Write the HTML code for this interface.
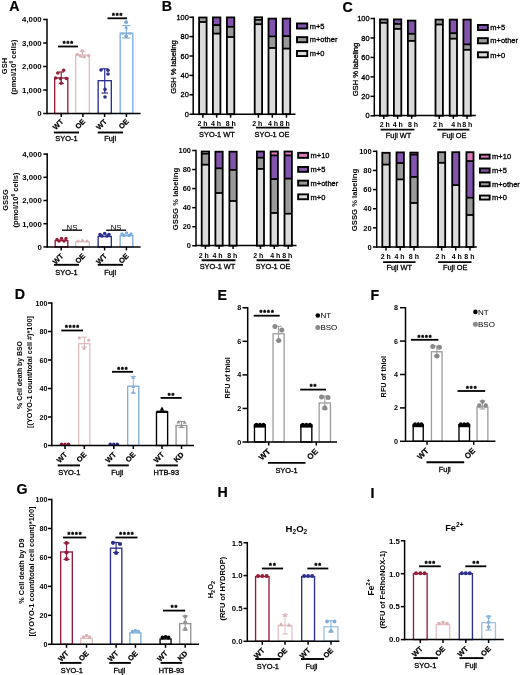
<!DOCTYPE html>
<html><head><meta charset="utf-8"><title>Figure</title>
<style>
html,body{margin:0;padding:0;background:#fff;}
body{width:520px;height:675px;overflow:hidden;}
svg{display:block;font-family:"Liberation Sans", Arial, sans-serif;}
</style></head>
<body>
<svg width="520" height="675" viewBox="0 0 520 675">
<rect width="520" height="675" fill="#fff"/>
<text x="9.2" y="11.4" font-size="14.2" text-anchor="start" font-weight="bold" fill="#000" stroke="#000" stroke-width="0.2">A</text>
<line x1="47" y1="18.75" x2="47" y2="114.25" stroke="#000" stroke-width="1.5"/>
<line x1="43.2" y1="19.5" x2="47" y2="19.5" stroke="#000" stroke-width="1.5"/>
<text x="41.6" y="22.31" font-size="7.8" text-anchor="end" font-weight="bold" fill="#000">4,000</text>
<line x1="43.2" y1="43" x2="47" y2="43" stroke="#000" stroke-width="1.5"/>
<text x="41.6" y="45.81" font-size="7.8" text-anchor="end" font-weight="bold" fill="#000">3,000</text>
<line x1="43.2" y1="66.5" x2="47" y2="66.5" stroke="#000" stroke-width="1.5"/>
<text x="41.6" y="69.31" font-size="7.8" text-anchor="end" font-weight="bold" fill="#000">2,000</text>
<line x1="43.2" y1="90" x2="47" y2="90" stroke="#000" stroke-width="1.5"/>
<text x="41.6" y="92.81" font-size="7.8" text-anchor="end" font-weight="bold" fill="#000">1,000</text>
<line x1="43.2" y1="113.5" x2="47" y2="113.5" stroke="#000" stroke-width="1.5"/>
<text x="41.6" y="116.31" font-size="7.8" text-anchor="end" font-weight="bold" fill="#000">0</text>
<text x="7.3" y="66" font-size="7.5" text-anchor="middle" font-weight="bold" fill="#000" transform="rotate(-90 7.3 66)">GSH</text>
<text x="16.2" y="67" font-size="7.5" text-anchor="middle" font-weight="bold" fill="#000" transform="rotate(-90 16.2 67)">(pmol/10<tspan font-size="5" dy="-3">6</tspan><tspan dy="3"> cells)</tspan></text>
<rect x="54.67" y="77.97" width="13.15" height="35.53" fill="#fff" stroke="#961E3A" stroke-width="1.35"/>
<rect x="75.67" y="55.17" width="13.65" height="58.33" fill="#fff" stroke="#E0BEC0" stroke-width="1.35"/>
<rect x="98.17" y="80.67" width="13.15" height="32.83" fill="#fff" stroke="#2C2F8E" stroke-width="1.35"/>
<rect x="120.17" y="33.17" width="12.65" height="80.33" fill="#fff" stroke="#7EAEDB" stroke-width="1.35"/>
<line x1="61.25" y1="72" x2="61.25" y2="83.5" stroke="#961E3A" stroke-width="1.2"/>
<line x1="58.65" y1="72" x2="63.85" y2="72" stroke="#961E3A" stroke-width="1.2"/>
<line x1="58.65" y1="83.5" x2="63.85" y2="83.5" stroke="#961E3A" stroke-width="1.2"/>
<circle cx="63.6" cy="70.2" r="1.8" fill="#961E3A"/>
<circle cx="57.8" cy="73" r="1.8" fill="#961E3A"/>
<circle cx="55.6" cy="78" r="1.8" fill="#961E3A"/>
<circle cx="66.4" cy="78.5" r="1.8" fill="#961E3A"/>
<circle cx="61.2" cy="83.3" r="1.8" fill="#961E3A"/>
<circle cx="60.5" cy="78.8" r="1.8" fill="#961E3A"/>
<line x1="82.5" y1="51.5" x2="82.5" y2="57" stroke="#E0BEC0" stroke-width="1"/>
<line x1="79.5" y1="51.5" x2="85.5" y2="51.5" stroke="#E0BEC0" stroke-width="1"/>
<line x1="79.5" y1="57" x2="85.5" y2="57" stroke="#E0BEC0" stroke-width="1"/>
<circle cx="82.2" cy="51" r="1.7" fill="#D9B2B5"/>
<circle cx="77.3" cy="54.4" r="1.7" fill="#D9B2B5"/>
<circle cx="84.3" cy="56.7" r="1.7" fill="#D9B2B5"/>
<circle cx="88.8" cy="55.8" r="1.7" fill="#D9B2B5"/>
<circle cx="80.5" cy="56" r="1.7" fill="#D9B2B5"/>
<line x1="104.75" y1="68.8" x2="104.75" y2="93" stroke="#2C2F8E" stroke-width="1.2"/>
<line x1="101.55" y1="68.8" x2="107.95" y2="68.8" stroke="#2C2F8E" stroke-width="1.2"/>
<line x1="101.55" y1="93" x2="107.95" y2="93" stroke="#2C2F8E" stroke-width="1.2"/>
<circle cx="101" cy="70" r="1.8" fill="#2C2F8E"/>
<circle cx="108" cy="70.3" r="1.8" fill="#2C2F8E"/>
<circle cx="108" cy="74" r="1.8" fill="#2C2F8E"/>
<circle cx="105" cy="89.4" r="1.8" fill="#2C2F8E"/>
<circle cx="105" cy="97" r="1.8" fill="#2C2F8E"/>
<line x1="126.3" y1="25.6" x2="126.3" y2="38" stroke="#7EAEDB" stroke-width="1.1"/>
<line x1="122.3" y1="25.6" x2="130.3" y2="25.6" stroke="#7EAEDB" stroke-width="1.1"/>
<line x1="122.3" y1="38" x2="130.3" y2="38" stroke="#7EAEDB" stroke-width="1.1"/>
<circle cx="126.2" cy="22.2" r="1.9" fill="#7FA9D0"/>
<polygon points="126.2,25.3 128.1,28.7 124.3,28.7" fill="#7FA9D0"/>
<circle cx="126.2" cy="36.2" r="1.9" fill="#7FA9D0"/>
<circle cx="122.6" cy="33.6" r="1.5" fill="#8DB6DC"/>
<circle cx="129.8" cy="33.6" r="1.5" fill="#8DB6DC"/>
<line x1="47" y1="113.5" x2="140.6" y2="113.5" stroke="#000" stroke-width="1.5"/>
<line x1="61.2" y1="113.5" x2="61.2" y2="117" stroke="#000" stroke-width="1.5"/>
<line x1="82.9" y1="113.5" x2="82.9" y2="117" stroke="#000" stroke-width="1.5"/>
<line x1="104.6" y1="113.5" x2="104.6" y2="117" stroke="#000" stroke-width="1.5"/>
<line x1="126.4" y1="113.5" x2="126.4" y2="117" stroke="#000" stroke-width="1.5"/>
<line x1="58" y1="46.5" x2="78" y2="46.5" stroke="#000" stroke-width="1.8"/>
<text x="68.4" y="46.2" font-size="7.2" text-anchor="middle" font-weight="bold" fill="#000" letter-spacing="1.0" stroke="#000" stroke-width="0.45">***</text>
<line x1="107.5" y1="18.3" x2="127" y2="18.3" stroke="#000" stroke-width="1.8"/>
<text x="117.65" y="18" font-size="7.2" text-anchor="middle" font-weight="bold" fill="#000" letter-spacing="1.0" stroke="#000" stroke-width="0.45">***</text>
<text x="64" y="122" font-size="7.4" text-anchor="end" font-weight="bold" fill="#000" transform="rotate(-45 64 122)" stroke="#000" stroke-width="0.2">WT</text>
<text x="85.7" y="122" font-size="7.4" text-anchor="end" font-weight="bold" fill="#000" transform="rotate(-45 85.7 122)" stroke="#000" stroke-width="0.2">OE</text>
<text x="107.4" y="122" font-size="7.4" text-anchor="end" font-weight="bold" fill="#000" transform="rotate(-45 107.4 122)" stroke="#000" stroke-width="0.2">WT</text>
<text x="129.2" y="122" font-size="7.4" text-anchor="end" font-weight="bold" fill="#000" transform="rotate(-45 129.2 122)" stroke="#000" stroke-width="0.2">OE</text>
<line x1="53.9" y1="132.5" x2="79" y2="132.5" stroke="#000" stroke-width="1.9"/>
<text x="66.45" y="140.96" font-size="7.4" text-anchor="middle" stroke="#000" stroke-width="0.3" fill="#000">SYO-1</text>
<line x1="97.7" y1="132.5" x2="123" y2="132.5" stroke="#000" stroke-width="1.9"/>
<text x="110.2" y="140.96" font-size="7.4" text-anchor="middle" stroke="#000" stroke-width="0.3" fill="#000">Fuji</text>
<line x1="47.2" y1="153.35" x2="47.2" y2="247.65" stroke="#000" stroke-width="1.5"/>
<line x1="43.4" y1="154.1" x2="47.2" y2="154.1" stroke="#000" stroke-width="1.5"/>
<text x="41.8" y="156.91" font-size="7.8" text-anchor="end" font-weight="bold" fill="#000">4,000</text>
<line x1="43.4" y1="177.3" x2="47.2" y2="177.3" stroke="#000" stroke-width="1.5"/>
<text x="41.8" y="180.11" font-size="7.8" text-anchor="end" font-weight="bold" fill="#000">3,000</text>
<line x1="43.4" y1="200.5" x2="47.2" y2="200.5" stroke="#000" stroke-width="1.5"/>
<text x="41.8" y="203.31" font-size="7.8" text-anchor="end" font-weight="bold" fill="#000">2,000</text>
<line x1="43.4" y1="223.7" x2="47.2" y2="223.7" stroke="#000" stroke-width="1.5"/>
<text x="41.8" y="226.51" font-size="7.8" text-anchor="end" font-weight="bold" fill="#000">1,000</text>
<line x1="43.4" y1="246.9" x2="47.2" y2="246.9" stroke="#000" stroke-width="1.5"/>
<text x="41.8" y="249.71" font-size="7.8" text-anchor="end" font-weight="bold" fill="#000">0</text>
<text x="8" y="200" font-size="7.5" text-anchor="middle" font-weight="bold" fill="#000" transform="rotate(-90 8 200)">GSSG</text>
<text x="18.2" y="200" font-size="7.5" text-anchor="middle" font-weight="bold" fill="#000" transform="rotate(-90 18.2 200)">(pmol/10<tspan font-size="5" dy="-3">6</tspan><tspan dy="3"> cells)</tspan></text>
<rect x="55.17" y="240.68" width="12.65" height="6.23" fill="#fff" stroke="#961E3A" stroke-width="1.35"/>
<rect x="75.67" y="241.68" width="13.65" height="5.23" fill="#fff" stroke="#E0BEC0" stroke-width="1.35"/>
<rect x="98.17" y="236.48" width="13.15" height="10.42" fill="#fff" stroke="#2C2F8E" stroke-width="1.35"/>
<rect x="120.17" y="235.68" width="12.65" height="11.23" fill="#fff" stroke="#7EAEDB" stroke-width="1.35"/>
<circle cx="57" cy="239.5" r="1.7" fill="#961E3A"/>
<circle cx="61.5" cy="238.5" r="1.7" fill="#961E3A"/>
<circle cx="66" cy="238.5" r="1.7" fill="#961E3A"/>
<circle cx="59" cy="241" r="1.7" fill="#961E3A"/>
<circle cx="64" cy="241" r="1.7" fill="#961E3A"/>
<circle cx="78" cy="241" r="1.5" fill="#D9B2B5"/>
<circle cx="82.5" cy="240.5" r="1.5" fill="#D9B2B5"/>
<circle cx="87" cy="241" r="1.5" fill="#D9B2B5"/>
<circle cx="100" cy="234.5" r="1.8" fill="#2C2F8E"/>
<circle cx="104.7" cy="233.5" r="1.8" fill="#2C2F8E"/>
<circle cx="109" cy="234.5" r="1.8" fill="#2C2F8E"/>
<circle cx="102" cy="236" r="1.8" fill="#2C2F8E"/>
<circle cx="107" cy="236" r="1.8" fill="#2C2F8E"/>
<circle cx="122" cy="234" r="1.7" fill="#7EAEDB"/>
<circle cx="126.5" cy="233" r="1.7" fill="#7EAEDB"/>
<circle cx="131" cy="234" r="1.7" fill="#7EAEDB"/>
<circle cx="124" cy="235.5" r="1.7" fill="#7EAEDB"/>
<circle cx="129" cy="235.5" r="1.7" fill="#7EAEDB"/>
<line x1="47.2" y1="246.9" x2="140.6" y2="246.9" stroke="#000" stroke-width="1.5"/>
<line x1="61.2" y1="246.9" x2="61.2" y2="250.4" stroke="#000" stroke-width="1.5"/>
<line x1="82.9" y1="246.9" x2="82.9" y2="250.4" stroke="#000" stroke-width="1.5"/>
<line x1="104.6" y1="246.9" x2="104.6" y2="250.4" stroke="#000" stroke-width="1.5"/>
<line x1="126.4" y1="246.9" x2="126.4" y2="250.4" stroke="#000" stroke-width="1.5"/>
<line x1="62" y1="230.2" x2="82" y2="230.2" stroke="#000" stroke-width="1.3"/>
<text x="72" y="229.8" font-size="7.8" text-anchor="middle" fill="#000">NS</text>
<line x1="106.2" y1="230.2" x2="126.1" y2="230.2" stroke="#000" stroke-width="1.3"/>
<text x="116.15" y="229.8" font-size="7.8" text-anchor="middle" fill="#000">NS</text>
<text x="64" y="256.5" font-size="7.4" text-anchor="end" font-weight="bold" fill="#000" transform="rotate(-45 64 256.5)" stroke="#000" stroke-width="0.2">WT</text>
<text x="85.7" y="256.5" font-size="7.4" text-anchor="end" font-weight="bold" fill="#000" transform="rotate(-45 85.7 256.5)" stroke="#000" stroke-width="0.2">OE</text>
<text x="107.4" y="256.5" font-size="7.4" text-anchor="end" font-weight="bold" fill="#000" transform="rotate(-45 107.4 256.5)" stroke="#000" stroke-width="0.2">WT</text>
<text x="129.2" y="256.5" font-size="7.4" text-anchor="end" font-weight="bold" fill="#000" transform="rotate(-45 129.2 256.5)" stroke="#000" stroke-width="0.2">OE</text>
<line x1="53.9" y1="264.8" x2="79" y2="264.8" stroke="#000" stroke-width="1.9"/>
<text x="66.45" y="274.86" font-size="7.4" text-anchor="middle" stroke="#000" stroke-width="0.3" fill="#000">SYO-1</text>
<line x1="97.7" y1="264.8" x2="123" y2="264.8" stroke="#000" stroke-width="1.9"/>
<text x="110.2" y="274.86" font-size="7.4" text-anchor="middle" stroke="#000" stroke-width="0.3" fill="#000">Fuji</text>
<text x="161.8" y="11.3" font-size="14.2" text-anchor="start" font-weight="bold" fill="#000" stroke="#000" stroke-width="0.2">B</text>
<line x1="193.2" y1="16.45" x2="193.2" y2="114.95" stroke="#000" stroke-width="1.5"/>
<line x1="189.4" y1="17.2" x2="193.2" y2="17.2" stroke="#000" stroke-width="1.5"/>
<text x="188.8" y="19.86" font-size="7.4" text-anchor="end" stroke="#000" stroke-width="0.3" fill="#000">100</text>
<line x1="189.4" y1="36.6" x2="193.2" y2="36.6" stroke="#000" stroke-width="1.5"/>
<text x="188.8" y="39.26" font-size="7.4" text-anchor="end" stroke="#000" stroke-width="0.3" fill="#000">80</text>
<line x1="189.4" y1="56" x2="193.2" y2="56" stroke="#000" stroke-width="1.5"/>
<text x="188.8" y="58.66" font-size="7.4" text-anchor="end" stroke="#000" stroke-width="0.3" fill="#000">60</text>
<line x1="189.4" y1="75.4" x2="193.2" y2="75.4" stroke="#000" stroke-width="1.5"/>
<text x="188.8" y="78.06" font-size="7.4" text-anchor="end" stroke="#000" stroke-width="0.3" fill="#000">40</text>
<line x1="189.4" y1="94.8" x2="193.2" y2="94.8" stroke="#000" stroke-width="1.5"/>
<text x="188.8" y="97.46" font-size="7.4" text-anchor="end" stroke="#000" stroke-width="0.3" fill="#000">20</text>
<line x1="189.4" y1="114.2" x2="193.2" y2="114.2" stroke="#000" stroke-width="1.5"/>
<text x="188.8" y="116.86" font-size="7.4" text-anchor="end" stroke="#000" stroke-width="0.3" fill="#000">0</text>
<text x="176.4" y="67" font-size="7.6" text-anchor="middle" stroke="#000" stroke-width="0.3" fill="#000" transform="rotate(-90 176.4 67)">GSH % labeling</text>
<rect x="199.1" y="17.5" width="7.5" height="4.5" fill="#9A9A9A"/>
<rect x="199.1" y="22" width="7.5" height="92.2" fill="#DBDBDB"/>
<rect x="199.1" y="21.1" width="7.5" height="1.8" fill="#000"/>
<rect x="199.1" y="17.5" width="7.5" height="96.7" fill="none" stroke="#000" stroke-width="1.8"/>
<rect x="212.9" y="17.4" width="7.5" height="7.7" fill="#8254AE"/>
<rect x="212.9" y="25.1" width="7.5" height="8.5" fill="#9A9A9A"/>
<rect x="212.9" y="33.6" width="7.5" height="80.6" fill="#DBDBDB"/>
<rect x="212.9" y="24.2" width="7.5" height="1.8" fill="#000"/>
<rect x="212.9" y="32.7" width="7.5" height="1.8" fill="#000"/>
<rect x="212.9" y="17.4" width="7.5" height="96.8" fill="none" stroke="#000" stroke-width="1.8"/>
<rect x="226.9" y="17.4" width="7.4" height="9.4" fill="#8254AE"/>
<rect x="226.9" y="26.8" width="7.4" height="10.2" fill="#9A9A9A"/>
<rect x="226.9" y="37" width="7.4" height="77.2" fill="#DBDBDB"/>
<rect x="226.9" y="25.9" width="7.4" height="1.8" fill="#000"/>
<rect x="226.9" y="36.1" width="7.4" height="1.8" fill="#000"/>
<rect x="226.9" y="17.4" width="7.4" height="96.8" fill="none" stroke="#000" stroke-width="1.8"/>
<rect x="254.7" y="17.3" width="7.4" height="2.5" fill="#E4E4E4"/>
<rect x="254.7" y="19.8" width="7.4" height="4.4" fill="#9A9A9A"/>
<rect x="254.7" y="24.2" width="7.4" height="90" fill="#DBDBDB"/>
<rect x="254.7" y="18.9" width="7.4" height="1.8" fill="#000"/>
<rect x="254.7" y="23.3" width="7.4" height="1.8" fill="#000"/>
<rect x="254.7" y="17.3" width="7.4" height="96.9" fill="none" stroke="#000" stroke-width="1.8"/>
<rect x="268.5" y="18.6" width="7.6" height="17.8" fill="#8254AE"/>
<rect x="268.5" y="36.4" width="7.6" height="11.6" fill="#9A9A9A"/>
<rect x="268.5" y="48" width="7.6" height="66.2" fill="#DBDBDB"/>
<rect x="268.5" y="35.5" width="7.6" height="1.8" fill="#000"/>
<rect x="268.5" y="47.1" width="7.6" height="1.8" fill="#000"/>
<rect x="268.5" y="18.6" width="7.6" height="95.6" fill="none" stroke="#000" stroke-width="1.8"/>
<rect x="282.7" y="18.6" width="7.5" height="17.5" fill="#8254AE"/>
<rect x="282.7" y="36.1" width="7.5" height="12.5" fill="#9A9A9A"/>
<rect x="282.7" y="48.6" width="7.5" height="65.6" fill="#DBDBDB"/>
<rect x="282.7" y="35.2" width="7.5" height="1.8" fill="#000"/>
<rect x="282.7" y="47.7" width="7.5" height="1.8" fill="#000"/>
<rect x="282.7" y="18.6" width="7.5" height="95.6" fill="none" stroke="#000" stroke-width="1.8"/>
<line x1="193.2" y1="114.2" x2="295.5" y2="114.2" stroke="#000" stroke-width="1.5"/>
<line x1="202.85" y1="114.2" x2="202.85" y2="117.7" stroke="#000" stroke-width="1.5"/>
<line x1="216.65" y1="114.2" x2="216.65" y2="117.7" stroke="#000" stroke-width="1.5"/>
<line x1="230.6" y1="114.2" x2="230.6" y2="117.7" stroke="#000" stroke-width="1.5"/>
<line x1="258.4" y1="114.2" x2="258.4" y2="117.7" stroke="#000" stroke-width="1.5"/>
<line x1="272.3" y1="114.2" x2="272.3" y2="117.7" stroke="#000" stroke-width="1.5"/>
<line x1="286.45" y1="114.2" x2="286.45" y2="117.7" stroke="#000" stroke-width="1.5"/>
<text x="202.5" y="125.9" font-size="7" text-anchor="middle" font-weight="bold" fill="#000">2 h</text>
<text x="216" y="125.9" font-size="7" text-anchor="middle" font-weight="bold" fill="#000">4 h</text>
<text x="230.7" y="125.9" font-size="7" text-anchor="middle" font-weight="bold" fill="#000">8 h</text>
<text x="257.2" y="125.9" font-size="7" text-anchor="middle" font-weight="bold" fill="#000">2 h</text>
<text x="273" y="125.9" font-size="7" text-anchor="middle" font-weight="bold" fill="#000">4 h</text>
<text x="284.7" y="125.9" font-size="7" text-anchor="middle" font-weight="bold" fill="#000">8 h</text>
<line x1="200.3" y1="127.6" x2="233.4" y2="127.6" stroke="#000" stroke-width="1.9"/>
<text x="216.9" y="136.86" font-size="7.4" text-anchor="middle" stroke="#000" stroke-width="0.3" fill="#000">SYO-1 WT</text>
<line x1="256" y1="127.6" x2="289.4" y2="127.6" stroke="#000" stroke-width="1.9"/>
<text x="272" y="136.86" font-size="7.4" text-anchor="middle" stroke="#000" stroke-width="0.3" fill="#000">SYO-1 OE</text>
<rect x="296.95" y="23.45" width="10.3" height="5.1" fill="#8254AE" stroke="#000" stroke-width="1.9"/>
<text x="309.7" y="28.7" font-size="7.5" text-anchor="start" stroke="#000" stroke-width="0.3" fill="#000">m+5</text>
<rect x="296.95" y="37.15" width="10.3" height="5.1" fill="#9A9A9A" stroke="#000" stroke-width="1.9"/>
<text x="309.7" y="42.4" font-size="7.5" text-anchor="start" stroke="#000" stroke-width="0.3" fill="#000">m+other</text>
<rect x="296.95" y="50.95" width="10.3" height="5.1" fill="#DBDBDB" stroke="#000" stroke-width="1.9"/>
<text x="309.7" y="56.2" font-size="7.5" text-anchor="start" stroke="#000" stroke-width="0.3" fill="#000">m+0</text>
<line x1="196" y1="149.75" x2="196" y2="246.5" stroke="#000" stroke-width="1.5"/>
<line x1="192.2" y1="150.5" x2="196" y2="150.5" stroke="#000" stroke-width="1.5"/>
<text x="191" y="153.2" font-size="7.5" text-anchor="end" font-weight="bold" fill="#000">100</text>
<line x1="192.2" y1="169.55" x2="196" y2="169.55" stroke="#000" stroke-width="1.5"/>
<text x="191" y="172.25" font-size="7.5" text-anchor="end" font-weight="bold" fill="#000">80</text>
<line x1="192.2" y1="188.6" x2="196" y2="188.6" stroke="#000" stroke-width="1.5"/>
<text x="191" y="191.3" font-size="7.5" text-anchor="end" font-weight="bold" fill="#000">60</text>
<line x1="192.2" y1="207.65" x2="196" y2="207.65" stroke="#000" stroke-width="1.5"/>
<text x="191" y="210.35" font-size="7.5" text-anchor="end" font-weight="bold" fill="#000">40</text>
<line x1="192.2" y1="226.7" x2="196" y2="226.7" stroke="#000" stroke-width="1.5"/>
<text x="191" y="229.4" font-size="7.5" text-anchor="end" font-weight="bold" fill="#000">20</text>
<line x1="192.2" y1="245.75" x2="196" y2="245.75" stroke="#000" stroke-width="1.5"/>
<text x="191" y="248.45" font-size="7.5" text-anchor="end" font-weight="bold" fill="#000">0</text>
<text x="178" y="199" font-size="7.7" text-anchor="middle" font-weight="bold" fill="#000" transform="rotate(-90 178 199)">GSSG % labeling</text>
<rect x="201.7" y="151.5" width="7.4" height="2.1" fill="#E4E4E4"/>
<rect x="201.7" y="153.6" width="7.4" height="11.1" fill="#9A9A9A"/>
<rect x="201.7" y="164.7" width="7.4" height="81.05" fill="#DBDBDB"/>
<rect x="201.7" y="152.7" width="7.4" height="1.8" fill="#000"/>
<rect x="201.7" y="163.8" width="7.4" height="1.8" fill="#000"/>
<rect x="201.7" y="151.5" width="7.4" height="94.25" fill="none" stroke="#000" stroke-width="1.8"/>
<rect x="215.4" y="151.7" width="7.3" height="16.6" fill="#8254AE"/>
<rect x="215.4" y="168.3" width="7.3" height="24.7" fill="#9A9A9A"/>
<rect x="215.4" y="193" width="7.3" height="52.75" fill="#DBDBDB"/>
<rect x="215.4" y="167.4" width="7.3" height="1.8" fill="#000"/>
<rect x="215.4" y="192.1" width="7.3" height="1.8" fill="#000"/>
<rect x="215.4" y="151.7" width="7.3" height="94.05" fill="none" stroke="#000" stroke-width="1.8"/>
<rect x="229.4" y="151.7" width="7.3" height="18.2" fill="#8254AE"/>
<rect x="229.4" y="169.9" width="7.3" height="31.1" fill="#9A9A9A"/>
<rect x="229.4" y="201" width="7.3" height="44.75" fill="#DBDBDB"/>
<rect x="229.4" y="169" width="7.3" height="1.8" fill="#000"/>
<rect x="229.4" y="200.1" width="7.3" height="1.8" fill="#000"/>
<rect x="229.4" y="151.7" width="7.3" height="94.05" fill="none" stroke="#000" stroke-width="1.8"/>
<rect x="256.9" y="151.5" width="7.1" height="6.2" fill="#8254AE"/>
<rect x="256.9" y="157.7" width="7.1" height="11.2" fill="#9A9A9A"/>
<rect x="256.9" y="168.9" width="7.1" height="76.85" fill="#DBDBDB"/>
<rect x="256.9" y="156.8" width="7.1" height="1.8" fill="#000"/>
<rect x="256.9" y="168" width="7.1" height="1.8" fill="#000"/>
<rect x="256.9" y="151.5" width="7.1" height="94.25" fill="none" stroke="#000" stroke-width="1.8"/>
<rect x="270.6" y="151.5" width="7.3" height="3.9" fill="#DA78B8"/>
<rect x="270.6" y="155.4" width="7.3" height="23.7" fill="#8254AE"/>
<rect x="270.6" y="179.1" width="7.3" height="33.9" fill="#9A9A9A"/>
<rect x="270.6" y="213" width="7.3" height="32.75" fill="#DBDBDB"/>
<rect x="270.6" y="154.5" width="7.3" height="1.8" fill="#000"/>
<rect x="270.6" y="178.2" width="7.3" height="1.8" fill="#000"/>
<rect x="270.6" y="212.1" width="7.3" height="1.8" fill="#000"/>
<rect x="270.6" y="151.5" width="7.3" height="94.25" fill="none" stroke="#000" stroke-width="1.8"/>
<rect x="284.5" y="151.5" width="7.4" height="3.9" fill="#DA78B8"/>
<rect x="284.5" y="155.4" width="7.4" height="23.2" fill="#8254AE"/>
<rect x="284.5" y="178.6" width="7.4" height="35.1" fill="#9A9A9A"/>
<rect x="284.5" y="213.7" width="7.4" height="32.05" fill="#DBDBDB"/>
<rect x="284.5" y="154.5" width="7.4" height="1.8" fill="#000"/>
<rect x="284.5" y="177.7" width="7.4" height="1.8" fill="#000"/>
<rect x="284.5" y="212.8" width="7.4" height="1.8" fill="#000"/>
<rect x="284.5" y="151.5" width="7.4" height="94.25" fill="none" stroke="#000" stroke-width="1.8"/>
<line x1="196" y1="245.5" x2="296.5" y2="245.5" stroke="#000" stroke-width="1.5"/>
<line x1="205.4" y1="245.5" x2="205.4" y2="249" stroke="#000" stroke-width="1.5"/>
<line x1="219.05" y1="245.5" x2="219.05" y2="249" stroke="#000" stroke-width="1.5"/>
<line x1="233.05" y1="245.5" x2="233.05" y2="249" stroke="#000" stroke-width="1.5"/>
<line x1="260.45" y1="245.5" x2="260.45" y2="249" stroke="#000" stroke-width="1.5"/>
<line x1="274.25" y1="245.5" x2="274.25" y2="249" stroke="#000" stroke-width="1.5"/>
<line x1="288.2" y1="245.5" x2="288.2" y2="249" stroke="#000" stroke-width="1.5"/>
<text x="203.7" y="257.7" font-size="7" text-anchor="middle" font-weight="bold" fill="#000">2 h</text>
<text x="217.5" y="257.7" font-size="7" text-anchor="middle" font-weight="bold" fill="#000">4 h</text>
<text x="232.3" y="257.7" font-size="7" text-anchor="middle" font-weight="bold" fill="#000">8 h</text>
<text x="258.3" y="257.7" font-size="7" text-anchor="middle" font-weight="bold" fill="#000">2 h</text>
<text x="275.2" y="257.7" font-size="7" text-anchor="middle" font-weight="bold" fill="#000">4 h</text>
<text x="287.3" y="257.7" font-size="7" text-anchor="middle" font-weight="bold" fill="#000">8 h</text>
<line x1="201.6" y1="260.2" x2="235.5" y2="260.2" stroke="#000" stroke-width="1.9"/>
<text x="217.5" y="269.06" font-size="7.4" text-anchor="middle" stroke="#000" stroke-width="0.3" fill="#000">SYO-1 WT</text>
<line x1="256.6" y1="260.2" x2="289.4" y2="260.2" stroke="#000" stroke-width="1.9"/>
<text x="273" y="269.06" font-size="7.4" text-anchor="middle" stroke="#000" stroke-width="0.3" fill="#000">SYO-1 OE</text>
<rect x="298.15" y="152.85" width="9.9" height="5" fill="#DA78B8" stroke="#000" stroke-width="1.9"/>
<text x="310.5" y="158.05" font-size="7.5" text-anchor="start" stroke="#000" stroke-width="0.3" fill="#000">m+10</text>
<rect x="298.15" y="166.95" width="9.9" height="4.9" fill="#8254AE" stroke="#000" stroke-width="1.9"/>
<text x="310.5" y="172.1" font-size="7.5" text-anchor="start" stroke="#000" stroke-width="0.3" fill="#000">m+5</text>
<rect x="298.15" y="180.65" width="9.9" height="4.9" fill="#9A9A9A" stroke="#000" stroke-width="1.9"/>
<text x="310.5" y="185.8" font-size="7.5" text-anchor="start" stroke="#000" stroke-width="0.3" fill="#000">m+other</text>
<rect x="298.15" y="194.35" width="9.9" height="4.9" fill="#DBDBDB" stroke="#000" stroke-width="1.9"/>
<text x="310.5" y="199.5" font-size="7.5" text-anchor="start" stroke="#000" stroke-width="0.3" fill="#000">m+0</text>
<text x="342.6" y="11.6" font-size="14.2" text-anchor="start" font-weight="bold" fill="#000" stroke="#000" stroke-width="0.2">C</text>
<line x1="374.3" y1="17.75" x2="374.3" y2="116.55" stroke="#000" stroke-width="1.5"/>
<line x1="370.5" y1="18.5" x2="374.3" y2="18.5" stroke="#000" stroke-width="1.5"/>
<text x="369.5" y="21.16" font-size="7.4" text-anchor="end" stroke="#000" stroke-width="0.3" fill="#000">100</text>
<line x1="370.5" y1="37.96" x2="374.3" y2="37.96" stroke="#000" stroke-width="1.5"/>
<text x="369.5" y="40.62" font-size="7.4" text-anchor="end" stroke="#000" stroke-width="0.3" fill="#000">80</text>
<line x1="370.5" y1="57.42" x2="374.3" y2="57.42" stroke="#000" stroke-width="1.5"/>
<text x="369.5" y="60.08" font-size="7.4" text-anchor="end" stroke="#000" stroke-width="0.3" fill="#000">60</text>
<line x1="370.5" y1="76.88" x2="374.3" y2="76.88" stroke="#000" stroke-width="1.5"/>
<text x="369.5" y="79.54" font-size="7.4" text-anchor="end" stroke="#000" stroke-width="0.3" fill="#000">40</text>
<line x1="370.5" y1="96.34" x2="374.3" y2="96.34" stroke="#000" stroke-width="1.5"/>
<text x="369.5" y="99" font-size="7.4" text-anchor="end" stroke="#000" stroke-width="0.3" fill="#000">20</text>
<line x1="370.5" y1="115.8" x2="374.3" y2="115.8" stroke="#000" stroke-width="1.5"/>
<text x="369.5" y="118.46" font-size="7.4" text-anchor="end" stroke="#000" stroke-width="0.3" fill="#000">0</text>
<text x="358" y="69.5" font-size="7.6" text-anchor="middle" stroke="#000" stroke-width="0.3" fill="#000" transform="rotate(-90 358 69.5)">GSH % labeling</text>
<rect x="380" y="19.4" width="7.6" height="3.4" fill="#9A9A9A"/>
<rect x="380" y="22.8" width="7.6" height="93" fill="#DBDBDB"/>
<rect x="380" y="21.9" width="7.6" height="1.8" fill="#000"/>
<rect x="380" y="19.4" width="7.6" height="96.4" fill="none" stroke="#000" stroke-width="1.8"/>
<rect x="393.9" y="19.4" width="7.4" height="4.5" fill="#8254AE"/>
<rect x="393.9" y="23.9" width="7.4" height="5" fill="#9A9A9A"/>
<rect x="393.9" y="28.9" width="7.4" height="86.9" fill="#DBDBDB"/>
<rect x="393.9" y="23" width="7.4" height="1.8" fill="#000"/>
<rect x="393.9" y="28" width="7.4" height="1.8" fill="#000"/>
<rect x="393.9" y="19.4" width="7.4" height="96.4" fill="none" stroke="#000" stroke-width="1.8"/>
<rect x="407.9" y="20.6" width="7.5" height="13.2" fill="#8254AE"/>
<rect x="407.9" y="33.8" width="7.5" height="7.1" fill="#9A9A9A"/>
<rect x="407.9" y="40.9" width="7.5" height="74.9" fill="#DBDBDB"/>
<rect x="407.9" y="32.9" width="7.5" height="1.8" fill="#000"/>
<rect x="407.9" y="40" width="7.5" height="1.8" fill="#000"/>
<rect x="407.9" y="20.6" width="7.5" height="95.2" fill="none" stroke="#000" stroke-width="1.8"/>
<rect x="435.5" y="19.6" width="7.4" height="4.9" fill="#9A9A9A"/>
<rect x="435.5" y="24.5" width="7.4" height="91.3" fill="#DBDBDB"/>
<rect x="435.5" y="23.6" width="7.4" height="1.8" fill="#000"/>
<rect x="435.5" y="19.6" width="7.4" height="96.2" fill="none" stroke="#000" stroke-width="1.8"/>
<rect x="449.7" y="19.6" width="7.3" height="13.6" fill="#8254AE"/>
<rect x="449.7" y="33.2" width="7.3" height="5.5" fill="#9A9A9A"/>
<rect x="449.7" y="38.7" width="7.3" height="77.1" fill="#DBDBDB"/>
<rect x="449.7" y="32.3" width="7.3" height="1.8" fill="#000"/>
<rect x="449.7" y="37.8" width="7.3" height="1.8" fill="#000"/>
<rect x="449.7" y="19.6" width="7.3" height="96.2" fill="none" stroke="#000" stroke-width="1.8"/>
<rect x="463.4" y="19.6" width="7.4" height="24.8" fill="#8254AE"/>
<rect x="463.4" y="44.4" width="7.4" height="5.4" fill="#9A9A9A"/>
<rect x="463.4" y="49.8" width="7.4" height="66" fill="#DBDBDB"/>
<rect x="463.4" y="43.5" width="7.4" height="1.8" fill="#000"/>
<rect x="463.4" y="48.9" width="7.4" height="1.8" fill="#000"/>
<rect x="463.4" y="19.6" width="7.4" height="96.2" fill="none" stroke="#000" stroke-width="1.8"/>
<line x1="374.3" y1="115.4" x2="475.8" y2="115.4" stroke="#000" stroke-width="1.5"/>
<line x1="383.8" y1="115.4" x2="383.8" y2="118.9" stroke="#000" stroke-width="1.5"/>
<line x1="397.6" y1="115.4" x2="397.6" y2="118.9" stroke="#000" stroke-width="1.5"/>
<line x1="411.65" y1="115.4" x2="411.65" y2="118.9" stroke="#000" stroke-width="1.5"/>
<line x1="439.2" y1="115.4" x2="439.2" y2="118.9" stroke="#000" stroke-width="1.5"/>
<line x1="453.35" y1="115.4" x2="453.35" y2="118.9" stroke="#000" stroke-width="1.5"/>
<line x1="467.1" y1="115.4" x2="467.1" y2="118.9" stroke="#000" stroke-width="1.5"/>
<text x="384.8" y="127" font-size="7" text-anchor="middle" font-weight="bold" fill="#000">2 h</text>
<text x="397.8" y="127" font-size="7" text-anchor="middle" font-weight="bold" fill="#000">4 h</text>
<text x="413" y="127" font-size="7" text-anchor="middle" font-weight="bold" fill="#000">8 h</text>
<text x="438" y="127" font-size="7" text-anchor="middle" font-weight="bold" fill="#000">2 h</text>
<text x="456.2" y="127" font-size="7" text-anchor="middle" font-weight="bold" fill="#000">4 h</text>
<text x="467.3" y="127" font-size="7" text-anchor="middle" font-weight="bold" fill="#000">8 h</text>
<line x1="380.6" y1="129.6" x2="414.4" y2="129.6" stroke="#000" stroke-width="1.9"/>
<text x="398.6" y="137.86" font-size="7.4" text-anchor="middle" stroke="#000" stroke-width="0.3" fill="#000">Fuji WT</text>
<line x1="437.3" y1="129.6" x2="469.4" y2="129.6" stroke="#000" stroke-width="1.9"/>
<text x="454.2" y="137.86" font-size="7.4" text-anchor="middle" stroke="#000" stroke-width="0.3" fill="#000">Fuji OE</text>
<rect x="477.95" y="24.95" width="9.9" height="5.1" fill="#8254AE" stroke="#000" stroke-width="1.9"/>
<text x="490.3" y="30.2" font-size="7.5" text-anchor="start" stroke="#000" stroke-width="0.3" fill="#000">m+5</text>
<rect x="477.95" y="38.15" width="9.9" height="5.2" fill="#9A9A9A" stroke="#000" stroke-width="1.9"/>
<text x="490.3" y="43.45" font-size="7.5" text-anchor="start" stroke="#000" stroke-width="0.3" fill="#000">m+other</text>
<rect x="477.95" y="52.25" width="9.9" height="5.1" fill="#DBDBDB" stroke="#000" stroke-width="1.9"/>
<text x="490.3" y="57.5" font-size="7.5" text-anchor="start" stroke="#000" stroke-width="0.3" fill="#000">m+0</text>
<line x1="376.7" y1="150.55" x2="376.7" y2="247.75" stroke="#000" stroke-width="1.5"/>
<line x1="372.9" y1="151.3" x2="376.7" y2="151.3" stroke="#000" stroke-width="1.5"/>
<text x="371.7" y="154" font-size="7.5" text-anchor="end" font-weight="bold" fill="#000">100</text>
<line x1="372.9" y1="170.44" x2="376.7" y2="170.44" stroke="#000" stroke-width="1.5"/>
<text x="371.7" y="173.14" font-size="7.5" text-anchor="end" font-weight="bold" fill="#000">80</text>
<line x1="372.9" y1="189.58" x2="376.7" y2="189.58" stroke="#000" stroke-width="1.5"/>
<text x="371.7" y="192.28" font-size="7.5" text-anchor="end" font-weight="bold" fill="#000">60</text>
<line x1="372.9" y1="208.72" x2="376.7" y2="208.72" stroke="#000" stroke-width="1.5"/>
<text x="371.7" y="211.42" font-size="7.5" text-anchor="end" font-weight="bold" fill="#000">40</text>
<line x1="372.9" y1="227.86" x2="376.7" y2="227.86" stroke="#000" stroke-width="1.5"/>
<text x="371.7" y="230.56" font-size="7.5" text-anchor="end" font-weight="bold" fill="#000">20</text>
<line x1="372.9" y1="247" x2="376.7" y2="247" stroke="#000" stroke-width="1.5"/>
<text x="371.7" y="249.7" font-size="7.5" text-anchor="end" font-weight="bold" fill="#000">0</text>
<text x="356.9" y="200" font-size="7.7" text-anchor="middle" font-weight="bold" fill="#000" transform="rotate(-90 356.9 200)">GSSG % labeling</text>
<rect x="382.3" y="152.8" width="7.4" height="11.8" fill="#9A9A9A"/>
<rect x="382.3" y="164.6" width="7.4" height="82.4" fill="#DBDBDB"/>
<rect x="382.3" y="163.7" width="7.4" height="1.8" fill="#000"/>
<rect x="382.3" y="152.8" width="7.4" height="94.2" fill="none" stroke="#000" stroke-width="1.8"/>
<rect x="396.5" y="152.4" width="7.4" height="10.6" fill="#8254AE"/>
<rect x="396.5" y="163" width="7.4" height="16.4" fill="#9A9A9A"/>
<rect x="396.5" y="179.4" width="7.4" height="67.6" fill="#DBDBDB"/>
<rect x="396.5" y="162.1" width="7.4" height="1.8" fill="#000"/>
<rect x="396.5" y="178.5" width="7.4" height="1.8" fill="#000"/>
<rect x="396.5" y="152.4" width="7.4" height="94.6" fill="none" stroke="#000" stroke-width="1.8"/>
<rect x="410.3" y="152.6" width="7.4" height="2" fill="#DA78B8"/>
<rect x="410.3" y="154.6" width="7.4" height="22.3" fill="#8254AE"/>
<rect x="410.3" y="176.9" width="7.4" height="26.1" fill="#9A9A9A"/>
<rect x="410.3" y="203" width="7.4" height="44" fill="#DBDBDB"/>
<rect x="410.3" y="153.7" width="7.4" height="1.8" fill="#000"/>
<rect x="410.3" y="176" width="7.4" height="1.8" fill="#000"/>
<rect x="410.3" y="202.1" width="7.4" height="1.8" fill="#000"/>
<rect x="410.3" y="152.6" width="7.4" height="94.4" fill="none" stroke="#000" stroke-width="1.8"/>
<rect x="438.1" y="152.2" width="7.1" height="10.6" fill="#9A9A9A"/>
<rect x="438.1" y="162.8" width="7.1" height="84.2" fill="#DBDBDB"/>
<rect x="438.1" y="161.9" width="7.1" height="1.8" fill="#000"/>
<rect x="438.1" y="152.2" width="7.1" height="94.8" fill="none" stroke="#000" stroke-width="1.8"/>
<rect x="452.2" y="152.2" width="7.1" height="32.9" fill="#8254AE"/>
<rect x="452.2" y="185.1" width="7.1" height="61.9" fill="#DBDBDB"/>
<rect x="452.2" y="184.2" width="7.1" height="1.8" fill="#000"/>
<rect x="452.2" y="152.2" width="7.1" height="94.8" fill="none" stroke="#000" stroke-width="1.8"/>
<rect x="466.4" y="152.2" width="7.1" height="8.9" fill="#DA78B8"/>
<rect x="466.4" y="161.1" width="7.1" height="36.6" fill="#8254AE"/>
<rect x="466.4" y="197.7" width="7.1" height="17.3" fill="#9A9A9A"/>
<rect x="466.4" y="215" width="7.1" height="32" fill="#DBDBDB"/>
<rect x="466.4" y="160.2" width="7.1" height="1.8" fill="#000"/>
<rect x="466.4" y="196.8" width="7.1" height="1.8" fill="#000"/>
<rect x="466.4" y="214.1" width="7.1" height="1.8" fill="#000"/>
<rect x="466.4" y="152.2" width="7.1" height="94.8" fill="none" stroke="#000" stroke-width="1.8"/>
<line x1="376.7" y1="247.1" x2="476.8" y2="247.1" stroke="#000" stroke-width="1.5"/>
<line x1="386" y1="247.1" x2="386" y2="250.6" stroke="#000" stroke-width="1.5"/>
<line x1="400.2" y1="247.1" x2="400.2" y2="250.6" stroke="#000" stroke-width="1.5"/>
<line x1="414" y1="247.1" x2="414" y2="250.6" stroke="#000" stroke-width="1.5"/>
<line x1="441.65" y1="247.1" x2="441.65" y2="250.6" stroke="#000" stroke-width="1.5"/>
<line x1="455.75" y1="247.1" x2="455.75" y2="250.6" stroke="#000" stroke-width="1.5"/>
<line x1="469.95" y1="247.1" x2="469.95" y2="250.6" stroke="#000" stroke-width="1.5"/>
<text x="385.7" y="258.8" font-size="7" text-anchor="middle" font-weight="bold" fill="#000">2 h</text>
<text x="399.6" y="258.8" font-size="7" text-anchor="middle" font-weight="bold" fill="#000">4 h</text>
<text x="413.9" y="258.8" font-size="7" text-anchor="middle" font-weight="bold" fill="#000">8 h</text>
<text x="440.5" y="258.8" font-size="7" text-anchor="middle" font-weight="bold" fill="#000">2 h</text>
<text x="456.7" y="258.8" font-size="7" text-anchor="middle" font-weight="bold" fill="#000">4 h</text>
<text x="469.4" y="258.8" font-size="7" text-anchor="middle" font-weight="bold" fill="#000">8 h</text>
<line x1="383.1" y1="262.1" x2="415.5" y2="262.1" stroke="#000" stroke-width="1.9"/>
<text x="399.2" y="269.96" font-size="7.4" text-anchor="middle" stroke="#000" stroke-width="0.3" fill="#000">Fuji WT</text>
<line x1="438.1" y1="262.1" x2="471.5" y2="262.1" stroke="#000" stroke-width="1.9"/>
<text x="455.2" y="269.96" font-size="7.4" text-anchor="middle" stroke="#000" stroke-width="0.3" fill="#000">Fuji OE</text>
<rect x="479.95" y="154.65" width="9.7" height="4" fill="#DA78B8" stroke="#000" stroke-width="1.9"/>
<text x="492.1" y="159.35" font-size="7.5" text-anchor="start" stroke="#000" stroke-width="0.3" fill="#000">m+10</text>
<rect x="479.95" y="168.45" width="9.7" height="4.2" fill="#8254AE" stroke="#000" stroke-width="1.9"/>
<text x="492.1" y="173.25" font-size="7.5" text-anchor="start" stroke="#000" stroke-width="0.3" fill="#000">m+5</text>
<rect x="479.95" y="182.25" width="9.7" height="4" fill="#9A9A9A" stroke="#000" stroke-width="1.9"/>
<text x="492.1" y="186.95" font-size="7.5" text-anchor="start" stroke="#000" stroke-width="0.3" fill="#000">m+other</text>
<rect x="479.95" y="195.55" width="9.7" height="4" fill="#DBDBDB" stroke="#000" stroke-width="1.9"/>
<text x="492.1" y="200.25" font-size="7.5" text-anchor="start" stroke="#000" stroke-width="0.3" fill="#000">m+0</text>
<text x="14.8" y="299.4" font-size="14.2" text-anchor="start" font-weight="bold" fill="#000" stroke="#000" stroke-width="0.2">D</text>
<line x1="51.8" y1="302.25" x2="51.8" y2="446.25" stroke="#000" stroke-width="1.5"/>
<line x1="48" y1="303" x2="51.8" y2="303" stroke="#000" stroke-width="1.5"/>
<text x="47.4" y="305.59" font-size="7.2" text-anchor="end" font-weight="bold" fill="#000">100</text>
<line x1="48" y1="331.5" x2="51.8" y2="331.5" stroke="#000" stroke-width="1.5"/>
<text x="47.4" y="334.09" font-size="7.2" text-anchor="end" font-weight="bold" fill="#000">80</text>
<line x1="48" y1="360" x2="51.8" y2="360" stroke="#000" stroke-width="1.5"/>
<text x="47.4" y="362.59" font-size="7.2" text-anchor="end" font-weight="bold" fill="#000">60</text>
<line x1="48" y1="388.5" x2="51.8" y2="388.5" stroke="#000" stroke-width="1.5"/>
<text x="47.4" y="391.09" font-size="7.2" text-anchor="end" font-weight="bold" fill="#000">40</text>
<line x1="48" y1="417" x2="51.8" y2="417" stroke="#000" stroke-width="1.5"/>
<text x="47.4" y="419.59" font-size="7.2" text-anchor="end" font-weight="bold" fill="#000">20</text>
<line x1="48" y1="445.5" x2="51.8" y2="445.5" stroke="#000" stroke-width="1.5"/>
<text x="47.4" y="448.09" font-size="7.2" text-anchor="end" font-weight="bold" fill="#000">0</text>
<text x="22.3" y="375" font-size="6.9" text-anchor="middle" font-weight="bold" fill="#000" transform="rotate(-90 22.3 375)">% Cell death by BSO</text>
<text x="32.4" y="372" font-size="7.3" text-anchor="middle" font-weight="bold" fill="#000" transform="rotate(-90 32.4 372)">[(YOYO-1 count/total cell #)*100]</text>
<rect x="78.67" y="343.68" width="11.15" height="101.83" fill="#fff" stroke="#E0BEC0" stroke-width="1.35"/>
<rect x="127.67" y="386.18" width="11.15" height="59.33" fill="#fff" stroke="#7EAEDB" stroke-width="1.35"/>
<rect x="156.48" y="411.98" width="11.15" height="33.52" fill="#fff" stroke="#000" stroke-width="1.35"/>
<rect x="176.08" y="425.48" width="10.75" height="20.02" fill="#fff" stroke="#939393" stroke-width="1.35"/>
<circle cx="61.5" cy="444.2" r="1.8" fill="#961E3A"/>
<circle cx="65" cy="444.2" r="1.8" fill="#961E3A"/>
<circle cx="68.5" cy="444.2" r="1.8" fill="#961E3A"/>
<circle cx="110.3" cy="444.2" r="1.8" fill="#2C2F8E"/>
<circle cx="113.8" cy="444.2" r="1.8" fill="#2C2F8E"/>
<circle cx="117.3" cy="444.2" r="1.8" fill="#2C2F8E"/>
<line x1="84.3" y1="337.1" x2="84.3" y2="347" stroke="#D9B3B7" stroke-width="1"/>
<line x1="81.4" y1="337.1" x2="87.2" y2="337.1" stroke="#D9B3B7" stroke-width="1"/>
<line x1="81.4" y1="347" x2="87.2" y2="347" stroke="#D9B3B7" stroke-width="1"/>
<circle cx="79.4" cy="337.9" r="1.6" fill="#DDB4B8"/>
<circle cx="88.7" cy="340.2" r="1.6" fill="#DDB4B8"/>
<circle cx="84.1" cy="348.5" r="1.6" fill="#DDB4B8"/>
<line x1="133.3" y1="376.5" x2="133.3" y2="393" stroke="#8FB9E0" stroke-width="1"/>
<line x1="130.7" y1="376.5" x2="135.9" y2="376.5" stroke="#8FB9E0" stroke-width="1"/>
<line x1="130.7" y1="393" x2="135.9" y2="393" stroke="#8FB9E0" stroke-width="1"/>
<polygon points="133.3,375 135.39,378.74 131.21,378.74" fill="#8DAFD0"/>
<polygon points="133.3,390 135.39,393.74 131.21,393.74" fill="#8DAFD0"/>
<polygon points="133.3,384.5 135.2,387.9 131.4,387.9" fill="#8DAFD0"/>
<polygon points="162,406.5 164.38,410.75 159.62,410.75" fill="#000"/>
<line x1="156.5" y1="411.8" x2="167.6" y2="411.8" stroke="#000" stroke-width="2.2"/>
<line x1="181.5" y1="421.5" x2="181.5" y2="427.5" stroke="#939393" stroke-width="1"/>
<line x1="178.5" y1="421.5" x2="184.5" y2="421.5" stroke="#939393" stroke-width="1"/>
<line x1="178.5" y1="427.5" x2="184.5" y2="427.5" stroke="#939393" stroke-width="1"/>
<polygon points="178.3,420 180.2,423.4 176.4,423.4" fill="#939393"/>
<polygon points="184.7,420.3 186.6,423.7 182.8,423.7" fill="#939393"/>
<polygon points="181.5,424.5 183.4,427.9 179.6,427.9" fill="#939393"/>
<line x1="51.6" y1="445.5" x2="194" y2="445.5" stroke="#000" stroke-width="1.5"/>
<line x1="65" y1="445.5" x2="65" y2="449" stroke="#000" stroke-width="1.5"/>
<line x1="84.3" y1="445.5" x2="84.3" y2="449" stroke="#000" stroke-width="1.5"/>
<line x1="113.8" y1="445.5" x2="113.8" y2="449" stroke="#000" stroke-width="1.5"/>
<line x1="133.3" y1="445.5" x2="133.3" y2="449" stroke="#000" stroke-width="1.5"/>
<line x1="162" y1="445.5" x2="162" y2="449" stroke="#000" stroke-width="1.5"/>
<line x1="181.5" y1="445.5" x2="181.5" y2="449" stroke="#000" stroke-width="1.5"/>
<line x1="61.3" y1="330.5" x2="83" y2="330.5" stroke="#000" stroke-width="1.8"/>
<text x="72.55" y="330.2" font-size="7.2" text-anchor="middle" font-weight="bold" fill="#000" letter-spacing="1.0" stroke="#000" stroke-width="0.45">****</text>
<line x1="112" y1="371.8" x2="133" y2="371.8" stroke="#000" stroke-width="1.8"/>
<text x="122.9" y="371.5" font-size="7.2" text-anchor="middle" font-weight="bold" fill="#000" letter-spacing="1.0" stroke="#000" stroke-width="0.45">***</text>
<line x1="160.6" y1="397.9" x2="181.7" y2="397.9" stroke="#000" stroke-width="1.8"/>
<text x="171.55" y="397.6" font-size="7.2" text-anchor="middle" font-weight="bold" fill="#000" letter-spacing="1.0" stroke="#000" stroke-width="0.45">**</text>
<text x="67.8" y="455.1" font-size="7.4" text-anchor="end" font-weight="bold" fill="#000" transform="rotate(-45 67.8 455.1)" stroke="#000" stroke-width="0.2">WT</text>
<text x="87.1" y="455.1" font-size="7.4" text-anchor="end" font-weight="bold" fill="#000" transform="rotate(-45 87.1 455.1)" stroke="#000" stroke-width="0.2">OE</text>
<text x="116.6" y="455.1" font-size="7.4" text-anchor="end" font-weight="bold" fill="#000" transform="rotate(-45 116.6 455.1)" stroke="#000" stroke-width="0.2">WT</text>
<text x="136.1" y="455.1" font-size="7.4" text-anchor="end" font-weight="bold" fill="#000" transform="rotate(-45 136.1 455.1)" stroke="#000" stroke-width="0.2">OE</text>
<text x="164.8" y="455.1" font-size="7.4" text-anchor="end" font-weight="bold" fill="#000" transform="rotate(-45 164.8 455.1)" stroke="#000" stroke-width="0.2">WT</text>
<text x="184.3" y="455.1" font-size="7.4" text-anchor="end" font-weight="bold" fill="#000" transform="rotate(-45 184.3 455.1)" stroke="#000" stroke-width="0.2">KD</text>
<line x1="57.7" y1="465.4" x2="80" y2="465.4" stroke="#000" stroke-width="1.9"/>
<text x="69.3" y="474.66" font-size="7.4" text-anchor="middle" stroke="#000" stroke-width="0.3" fill="#000">SYO-1</text>
<line x1="107.7" y1="465.4" x2="128.8" y2="465.4" stroke="#000" stroke-width="1.9"/>
<text x="117.3" y="474.66" font-size="7.4" text-anchor="middle" stroke="#000" stroke-width="0.3" fill="#000">Fuji</text>
<line x1="155.8" y1="465.4" x2="177.9" y2="465.4" stroke="#000" stroke-width="1.9"/>
<text x="166.3" y="474.66" font-size="7.4" text-anchor="middle" stroke="#000" stroke-width="0.3" fill="#000">HTB-93</text>
<text x="217.6" y="300" font-size="14.2" text-anchor="start" font-weight="bold" fill="#000" stroke="#000" stroke-width="0.2">E</text>
<line x1="247.7" y1="307.01" x2="247.7" y2="442.75" stroke="#000" stroke-width="1.5"/>
<line x1="242.5" y1="307.76" x2="247.7" y2="307.76" stroke="#000" stroke-width="1.5"/>
<text x="241.2" y="310.35" font-size="7.2" text-anchor="end" font-weight="bold" fill="#000">8</text>
<line x1="242.5" y1="341.32" x2="247.7" y2="341.32" stroke="#000" stroke-width="1.5"/>
<text x="241.2" y="343.91" font-size="7.2" text-anchor="end" font-weight="bold" fill="#000">6</text>
<line x1="242.5" y1="374.88" x2="247.7" y2="374.88" stroke="#000" stroke-width="1.5"/>
<text x="241.2" y="377.47" font-size="7.2" text-anchor="end" font-weight="bold" fill="#000">4</text>
<line x1="242.5" y1="408.44" x2="247.7" y2="408.44" stroke="#000" stroke-width="1.5"/>
<text x="241.2" y="411.03" font-size="7.2" text-anchor="end" font-weight="bold" fill="#000">2</text>
<line x1="242.5" y1="442" x2="247.7" y2="442" stroke="#000" stroke-width="1.5"/>
<text x="241.2" y="444.59" font-size="7.2" text-anchor="end" font-weight="bold" fill="#000">0</text>
<text x="230.2" y="377.8" font-size="7.3" text-anchor="middle" font-weight="bold" fill="#000" transform="rotate(-90 230.2 377.8)">RFU of thiol</text>
<rect x="254.48" y="425.28" width="10.85" height="16.72" fill="#fff" stroke="#000" stroke-width="1.35"/>
<rect x="273.05" y="333.75" width="11.1" height="108.25" fill="#fff" stroke="#9C9C9C" stroke-width="1.3"/>
<rect x="300.88" y="425.28" width="10.95" height="16.72" fill="#fff" stroke="#000" stroke-width="1.35"/>
<rect x="319.15" y="402.95" width="11.3" height="39.05" fill="#fff" stroke="#9C9C9C" stroke-width="1.3"/>
<rect x="253.8" y="424.2" width="12.2" height="3.4" fill="#000"/>
<circle cx="256.4" cy="424.6" r="1.9" fill="#000"/>
<circle cx="259.9" cy="424.6" r="1.9" fill="#000"/>
<circle cx="263.4" cy="424.6" r="1.9" fill="#000"/>
<rect x="300.2" y="424.2" width="12.3" height="3.4" fill="#000"/>
<circle cx="302.8" cy="424.6" r="1.9" fill="#000"/>
<circle cx="306.35" cy="424.6" r="1.9" fill="#000"/>
<circle cx="309.9" cy="424.6" r="1.9" fill="#000"/>
<line x1="278.6" y1="326.3" x2="278.6" y2="340.5" stroke="#9C9C9C" stroke-width="1"/>
<line x1="275.6" y1="326.3" x2="281.6" y2="326.3" stroke="#9C9C9C" stroke-width="1"/>
<line x1="275.6" y1="340.5" x2="281.6" y2="340.5" stroke="#9C9C9C" stroke-width="1"/>
<circle cx="274.9" cy="326.4" r="2.5" fill="#8A8A8A"/>
<circle cx="281.8" cy="329.9" r="2.5" fill="#8A8A8A"/>
<circle cx="278.7" cy="340.5" r="2.5" fill="#8A8A8A"/>
<line x1="324.8" y1="396" x2="324.8" y2="409" stroke="#9C9C9C" stroke-width="1"/>
<line x1="321.8" y1="396" x2="327.8" y2="396" stroke="#9C9C9C" stroke-width="1"/>
<line x1="321.8" y1="409" x2="327.8" y2="409" stroke="#9C9C9C" stroke-width="1"/>
<circle cx="321.5" cy="397" r="2.5" fill="#8A8A8A"/>
<circle cx="328" cy="397.5" r="2.5" fill="#8A8A8A"/>
<circle cx="324.8" cy="408" r="2.5" fill="#8A8A8A"/>
<line x1="247.7" y1="442" x2="337" y2="442" stroke="#000" stroke-width="1.5"/>
<line x1="268.7" y1="442" x2="268.7" y2="445.5" stroke="#000" stroke-width="1.5"/>
<line x1="316.3" y1="442" x2="316.3" y2="445.5" stroke="#000" stroke-width="1.5"/>
<line x1="253.7" y1="315.7" x2="279.7" y2="315.7" stroke="#000" stroke-width="1.8"/>
<text x="267.1" y="315.4" font-size="7.2" text-anchor="middle" font-weight="bold" fill="#000" letter-spacing="1.0" stroke="#000" stroke-width="0.45">****</text>
<line x1="300.2" y1="389.6" x2="326" y2="389.6" stroke="#000" stroke-width="1.8"/>
<text x="313.5" y="389.3" font-size="7.2" text-anchor="middle" font-weight="bold" fill="#000" letter-spacing="1.0" stroke="#000" stroke-width="0.45">**</text>
<text x="270.9" y="452" font-size="8.0" text-anchor="end" font-weight="bold" fill="#000" transform="rotate(-45 270.9 452)" stroke="#000" stroke-width="0.2">WT</text>
<text x="318.5" y="452" font-size="8.0" text-anchor="end" font-weight="bold" fill="#000" transform="rotate(-45 318.5 452)" stroke="#000" stroke-width="0.2">OE</text>
<line x1="267.9" y1="462.9" x2="305.5" y2="462.9" stroke="#000" stroke-width="1.9"/>
<text x="286.5" y="472.66" font-size="7.4" text-anchor="middle" stroke="#000" stroke-width="0.3" fill="#000">SYO-1</text>
<circle cx="317.8" cy="315.5" r="2.3" fill="#000"/>
<text x="320.4" y="318.4" font-size="8" text-anchor="start" fill="#000">NT</text>
<circle cx="317.8" cy="327.4" r="2.5" fill="#8A8A8A"/>
<text x="320.4" y="330.3" font-size="8" text-anchor="start" fill="#000">BSO</text>
<text x="370.5" y="300.3" font-size="14.2" text-anchor="start" font-weight="bold" fill="#000" stroke="#000" stroke-width="0.2">F</text>
<line x1="405.5" y1="306.95" x2="405.5" y2="442.05" stroke="#000" stroke-width="1.5"/>
<line x1="400" y1="307.7" x2="405.5" y2="307.7" stroke="#000" stroke-width="1.5"/>
<text x="398.1" y="310.29" font-size="7.2" text-anchor="end" font-weight="bold" fill="#000">8</text>
<line x1="400" y1="341.1" x2="405.5" y2="341.1" stroke="#000" stroke-width="1.5"/>
<text x="398.1" y="343.69" font-size="7.2" text-anchor="end" font-weight="bold" fill="#000">6</text>
<line x1="400" y1="374.5" x2="405.5" y2="374.5" stroke="#000" stroke-width="1.5"/>
<text x="398.1" y="377.09" font-size="7.2" text-anchor="end" font-weight="bold" fill="#000">4</text>
<line x1="400" y1="407.9" x2="405.5" y2="407.9" stroke="#000" stroke-width="1.5"/>
<text x="398.1" y="410.49" font-size="7.2" text-anchor="end" font-weight="bold" fill="#000">2</text>
<line x1="400" y1="441.3" x2="405.5" y2="441.3" stroke="#000" stroke-width="1.5"/>
<text x="398.1" y="443.89" font-size="7.2" text-anchor="end" font-weight="bold" fill="#000">0</text>
<text x="386.2" y="376.7" font-size="7.3" text-anchor="middle" font-weight="bold" fill="#000" transform="rotate(-90 386.2 376.7)">RFU of thiol</text>
<rect x="413.18" y="425.28" width="10.05" height="16.02" fill="#fff" stroke="#000" stroke-width="1.35"/>
<rect x="431.45" y="351.75" width="10.6" height="89.55" fill="#fff" stroke="#9C9C9C" stroke-width="1.3"/>
<rect x="458.98" y="425.28" width="10.55" height="16.02" fill="#fff" stroke="#000" stroke-width="1.35"/>
<rect x="477.05" y="406.95" width="10.8" height="34.35" fill="#fff" stroke="#9C9C9C" stroke-width="1.3"/>
<rect x="412.5" y="423.8" width="11.4" height="3.4" fill="#000"/>
<circle cx="415" cy="424.2" r="1.9" fill="#000"/>
<circle cx="418.2" cy="424.2" r="1.9" fill="#000"/>
<circle cx="421.4" cy="424.2" r="1.9" fill="#000"/>
<rect x="458.3" y="423.8" width="11.9" height="3.4" fill="#000"/>
<circle cx="460.8" cy="424.2" r="1.9" fill="#000"/>
<circle cx="464.25" cy="424.2" r="1.9" fill="#000"/>
<circle cx="467.7" cy="424.2" r="1.9" fill="#000"/>
<line x1="436.8" y1="346" x2="436.8" y2="356" stroke="#9C9C9C" stroke-width="1"/>
<line x1="433.8" y1="346" x2="439.8" y2="346" stroke="#9C9C9C" stroke-width="1"/>
<line x1="433.8" y1="356" x2="439.8" y2="356" stroke="#9C9C9C" stroke-width="1"/>
<circle cx="432.7" cy="346.4" r="2.5" fill="#8A8A8A"/>
<circle cx="439.4" cy="347.3" r="2.5" fill="#8A8A8A"/>
<circle cx="436.9" cy="355.9" r="2.5" fill="#8A8A8A"/>
<line x1="482.4" y1="401" x2="482.4" y2="409" stroke="#9C9C9C" stroke-width="1"/>
<line x1="479.4" y1="401" x2="485.4" y2="401" stroke="#9C9C9C" stroke-width="1"/>
<line x1="479.4" y1="409" x2="485.4" y2="409" stroke="#9C9C9C" stroke-width="1"/>
<circle cx="479.3" cy="405.5" r="2.2" fill="#8A8A8A"/>
<circle cx="482.5" cy="401.6" r="2.2" fill="#8A8A8A"/>
<circle cx="485.8" cy="405.5" r="2.2" fill="#8A8A8A"/>
<line x1="405.5" y1="441.3" x2="495.4" y2="441.3" stroke="#000" stroke-width="1.5"/>
<line x1="427" y1="441.3" x2="427" y2="444.8" stroke="#000" stroke-width="1.5"/>
<line x1="473.7" y1="441.3" x2="473.7" y2="444.8" stroke="#000" stroke-width="1.5"/>
<line x1="410.9" y1="339.8" x2="438.4" y2="339.8" stroke="#000" stroke-width="1.8"/>
<text x="425.05" y="339.5" font-size="7.2" text-anchor="middle" font-weight="bold" fill="#000" letter-spacing="1.0" stroke="#000" stroke-width="0.45">****</text>
<line x1="457.5" y1="391" x2="485.2" y2="391" stroke="#000" stroke-width="1.8"/>
<text x="471.75" y="390.7" font-size="7.2" text-anchor="middle" font-weight="bold" fill="#000" letter-spacing="1.0" stroke="#000" stroke-width="0.45">***</text>
<text x="429.2" y="451.3" font-size="8.0" text-anchor="end" font-weight="bold" fill="#000" transform="rotate(-45 429.2 451.3)" stroke="#000" stroke-width="0.2">WT</text>
<text x="475.9" y="451.3" font-size="8.0" text-anchor="end" font-weight="bold" fill="#000" transform="rotate(-45 475.9 451.3)" stroke="#000" stroke-width="0.2">OE</text>
<line x1="426.5" y1="462.3" x2="464.2" y2="462.3" stroke="#000" stroke-width="1.9"/>
<text x="444.8" y="471.66" font-size="7.4" text-anchor="middle" stroke="#000" stroke-width="0.3" fill="#000">Fuji</text>
<circle cx="475.4" cy="311.9" r="2.3" fill="#000"/>
<text x="478" y="314.8" font-size="8" text-anchor="start" fill="#000">NT</text>
<circle cx="475.4" cy="324.2" r="2.5" fill="#8A8A8A"/>
<text x="478" y="327.1" font-size="8" text-anchor="start" fill="#000">BSO</text>
<text x="16.6" y="494" font-size="14.2" text-anchor="start" font-weight="bold" fill="#000" stroke="#000" stroke-width="0.2">G</text>
<line x1="51.8" y1="498.75" x2="51.8" y2="645.05" stroke="#000" stroke-width="1.5"/>
<line x1="48" y1="499.5" x2="51.8" y2="499.5" stroke="#000" stroke-width="1.5"/>
<text x="47.4" y="502.09" font-size="7.2" text-anchor="end" font-weight="bold" fill="#000">100</text>
<line x1="48" y1="528.46" x2="51.8" y2="528.46" stroke="#000" stroke-width="1.5"/>
<text x="47.4" y="531.05" font-size="7.2" text-anchor="end" font-weight="bold" fill="#000">80</text>
<line x1="48" y1="557.42" x2="51.8" y2="557.42" stroke="#000" stroke-width="1.5"/>
<text x="47.4" y="560.01" font-size="7.2" text-anchor="end" font-weight="bold" fill="#000">60</text>
<line x1="48" y1="586.38" x2="51.8" y2="586.38" stroke="#000" stroke-width="1.5"/>
<text x="47.4" y="588.97" font-size="7.2" text-anchor="end" font-weight="bold" fill="#000">40</text>
<line x1="48" y1="615.34" x2="51.8" y2="615.34" stroke="#000" stroke-width="1.5"/>
<text x="47.4" y="617.93" font-size="7.2" text-anchor="end" font-weight="bold" fill="#000">20</text>
<line x1="48" y1="644.3" x2="51.8" y2="644.3" stroke="#000" stroke-width="1.5"/>
<text x="47.4" y="646.89" font-size="7.2" text-anchor="end" font-weight="bold" fill="#000">0</text>
<text x="23.6" y="571" font-size="7.3" text-anchor="middle" font-weight="bold" fill="#000" transform="rotate(-90 23.6 571)">% Cell death by D9</text>
<text x="33.6" y="571.5" font-size="7.45" text-anchor="middle" font-weight="bold" fill="#000" transform="rotate(-90 33.6 571.5)">[(YOYO-1 count/total cell count)*100]</text>
<rect x="60.67" y="551.97" width="11.65" height="92.33" fill="#fff" stroke="#961E3A" stroke-width="1.35"/>
<rect x="80.67" y="638.38" width="11.55" height="5.92" fill="#fff" stroke="#E0BEC0" stroke-width="1.35"/>
<rect x="110.47" y="548.17" width="11.35" height="96.12" fill="#fff" stroke="#2C2F8E" stroke-width="1.35"/>
<rect x="129.88" y="632.88" width="10.95" height="11.42" fill="#fff" stroke="#7EAEDB" stroke-width="1.35"/>
<rect x="160.08" y="638.97" width="10.95" height="5.33" fill="#fff" stroke="#000" stroke-width="1.35"/>
<rect x="179.68" y="623.57" width="11.05" height="20.72" fill="#fff" stroke="#939393" stroke-width="1.35"/>
<line x1="66.5" y1="543" x2="66.5" y2="559.5" stroke="#961E3A" stroke-width="1.2"/>
<line x1="63.5" y1="543" x2="69.5" y2="543" stroke="#961E3A" stroke-width="1.2"/>
<line x1="63.5" y1="559.5" x2="69.5" y2="559.5" stroke="#961E3A" stroke-width="1.2"/>
<circle cx="66.5" cy="543" r="2.1" fill="#961E3A"/>
<circle cx="66.5" cy="552.5" r="2.1" fill="#961E3A"/>
<circle cx="66.5" cy="559" r="2.1" fill="#961E3A"/>
<line x1="116.1" y1="542.5" x2="116.1" y2="552.5" stroke="#2C2F8E" stroke-width="1.2"/>
<line x1="113.1" y1="542.5" x2="119.1" y2="542.5" stroke="#2C2F8E" stroke-width="1.2"/>
<line x1="113.1" y1="552.5" x2="119.1" y2="552.5" stroke="#2C2F8E" stroke-width="1.2"/>
<circle cx="113" cy="542.8" r="2.1" fill="#2C2F8E"/>
<circle cx="120" cy="544" r="2.1" fill="#2C2F8E"/>
<circle cx="116.1" cy="553" r="2.1" fill="#2C2F8E"/>
<circle cx="83.5" cy="637" r="1.7" fill="#D9B2B5"/>
<circle cx="86.5" cy="635.5" r="1.7" fill="#D9B2B5"/>
<circle cx="89.5" cy="637" r="1.7" fill="#D9B2B5"/>
<circle cx="132.5" cy="631.5" r="1.7" fill="#7EAEDB"/>
<circle cx="135.4" cy="630.5" r="1.7" fill="#7EAEDB"/>
<circle cx="138.4" cy="631.5" r="1.7" fill="#7EAEDB"/>
<circle cx="162.5" cy="637.5" r="1.9" fill="#000"/>
<circle cx="165.5" cy="637" r="1.9" fill="#000"/>
<circle cx="168.5" cy="637.5" r="1.9" fill="#000"/>
<line x1="185.2" y1="616" x2="185.2" y2="630" stroke="#939393" stroke-width="1"/>
<line x1="182.2" y1="616" x2="188.2" y2="616" stroke="#939393" stroke-width="1"/>
<line x1="182.2" y1="630" x2="188.2" y2="630" stroke="#939393" stroke-width="1"/>
<circle cx="185.2" cy="616.5" r="1.9" fill="#939393"/>
<circle cx="185.2" cy="622.5" r="1.9" fill="#939393"/>
<circle cx="185.2" cy="629" r="1.9" fill="#939393"/>
<line x1="51.8" y1="644.3" x2="199" y2="644.3" stroke="#000" stroke-width="1.5"/>
<line x1="66.5" y1="644.3" x2="66.5" y2="647.8" stroke="#000" stroke-width="1.5"/>
<line x1="86.5" y1="644.3" x2="86.5" y2="647.8" stroke="#000" stroke-width="1.5"/>
<line x1="116.1" y1="644.3" x2="116.1" y2="647.8" stroke="#000" stroke-width="1.5"/>
<line x1="135.4" y1="644.3" x2="135.4" y2="647.8" stroke="#000" stroke-width="1.5"/>
<line x1="165.5" y1="644.3" x2="165.5" y2="647.8" stroke="#000" stroke-width="1.5"/>
<line x1="185.2" y1="644.3" x2="185.2" y2="647.8" stroke="#000" stroke-width="1.5"/>
<line x1="63" y1="537.5" x2="86.3" y2="537.5" stroke="#000" stroke-width="1.8"/>
<text x="75.05" y="537.2" font-size="7.2" text-anchor="middle" font-weight="bold" fill="#000" letter-spacing="1.0" stroke="#000" stroke-width="0.45">****</text>
<line x1="115.5" y1="537.5" x2="137.5" y2="537.5" stroke="#000" stroke-width="1.8"/>
<text x="126.9" y="537.2" font-size="7.2" text-anchor="middle" font-weight="bold" fill="#000" letter-spacing="1.0" stroke="#000" stroke-width="0.45">****</text>
<line x1="163" y1="610.6" x2="185.2" y2="610.6" stroke="#000" stroke-width="1.8"/>
<text x="174.5" y="610.3" font-size="7.2" text-anchor="middle" font-weight="bold" fill="#000" letter-spacing="1.0" stroke="#000" stroke-width="0.45">**</text>
<text x="69.3" y="653.9" font-size="7.4" text-anchor="end" font-weight="bold" fill="#000" transform="rotate(-45 69.3 653.9)" stroke="#000" stroke-width="0.2">WT</text>
<text x="89.3" y="653.9" font-size="7.4" text-anchor="end" font-weight="bold" fill="#000" transform="rotate(-45 89.3 653.9)" stroke="#000" stroke-width="0.2">OE</text>
<text x="118.9" y="653.9" font-size="7.4" text-anchor="end" font-weight="bold" fill="#000" transform="rotate(-45 118.9 653.9)" stroke="#000" stroke-width="0.2">WT</text>
<text x="138.2" y="653.9" font-size="7.4" text-anchor="end" font-weight="bold" fill="#000" transform="rotate(-45 138.2 653.9)" stroke="#000" stroke-width="0.2">OE</text>
<text x="168.3" y="653.9" font-size="7.4" text-anchor="end" font-weight="bold" fill="#000" transform="rotate(-45 168.3 653.9)" stroke="#000" stroke-width="0.2">WT</text>
<text x="188" y="653.9" font-size="7.4" text-anchor="end" font-weight="bold" fill="#000" transform="rotate(-45 188 653.9)" stroke="#000" stroke-width="0.2">KD</text>
<line x1="60" y1="662.9" x2="81.5" y2="662.9" stroke="#000" stroke-width="1.9"/>
<text x="71.8" y="672.66" font-size="7.4" text-anchor="middle" stroke="#000" stroke-width="0.3" fill="#000">SYO-1</text>
<line x1="109.2" y1="662.9" x2="130.8" y2="662.9" stroke="#000" stroke-width="1.9"/>
<text x="119.4" y="672.66" font-size="7.4" text-anchor="middle" stroke="#000" stroke-width="0.3" fill="#000">Fuji</text>
<line x1="160.6" y1="662.9" x2="182.2" y2="662.9" stroke="#000" stroke-width="1.9"/>
<text x="171.5" y="672.66" font-size="7.4" text-anchor="middle" stroke="#000" stroke-width="0.3" fill="#000">HTB-93</text>
<text x="217.6" y="497.2" font-size="14.2" text-anchor="start" font-weight="bold" fill="#000" stroke="#000" stroke-width="0.2">H</text>
<text x="296.4" y="531.8" font-size="9.6" text-anchor="middle" font-weight="bold" fill="#000">H<tspan font-size="6.5" dy="2.2">2</tspan><tspan dy="-2.2">O</tspan><tspan font-size="6.5" dy="2.2">2</tspan></text>
<line x1="247.3" y1="542" x2="247.3" y2="642.05" stroke="#000" stroke-width="1.5"/>
<line x1="243.5" y1="542.75" x2="247.3" y2="542.75" stroke="#000" stroke-width="1.5"/>
<text x="242.5" y="545.56" font-size="7.8" text-anchor="end" font-weight="bold" fill="#000">1.5</text>
<line x1="243.5" y1="575.6" x2="247.3" y2="575.6" stroke="#000" stroke-width="1.5"/>
<text x="242.5" y="578.41" font-size="7.8" text-anchor="end" font-weight="bold" fill="#000">1.0</text>
<line x1="243.5" y1="608.45" x2="247.3" y2="608.45" stroke="#000" stroke-width="1.5"/>
<text x="242.5" y="611.26" font-size="7.8" text-anchor="end" font-weight="bold" fill="#000">0.5</text>
<line x1="243.5" y1="641.3" x2="247.3" y2="641.3" stroke="#000" stroke-width="1.5"/>
<text x="242.5" y="644.11" font-size="7.8" text-anchor="end" font-weight="bold" fill="#000">0.0</text>
<text x="213.2" y="589.6" font-size="7.5" text-anchor="middle" font-weight="bold" fill="#000" transform="rotate(-90 213.2 589.6)">H<tspan font-size="5.5" dy="2">2</tspan><tspan dy="-2">O</tspan><tspan font-size="5.5" dy="2">2</tspan></text>
<text x="225.3" y="588.7" font-size="7.5" text-anchor="middle" font-weight="bold" fill="#000" transform="rotate(-90 225.3 588.7)">(RFU of HYDROP)</text>
<rect x="255.58" y="576.57" width="13.45" height="64.72" fill="#fff" stroke="#961E3A" stroke-width="1.35"/>
<rect x="278.18" y="625.38" width="13.75" height="15.92" fill="#fff" stroke="#E8C3C6" stroke-width="1.35"/>
<rect x="301.68" y="576.57" width="12.85" height="64.72" fill="#fff" stroke="#2C2F8E" stroke-width="1.35"/>
<rect x="323.98" y="626.77" width="13.95" height="14.52" fill="#fff" stroke="#A2C4E5" stroke-width="1.35"/>
<circle cx="258" cy="576" r="2.0" fill="#961E3A"/>
<circle cx="262.3" cy="576" r="2.0" fill="#961E3A"/>
<circle cx="266.6" cy="576" r="2.0" fill="#961E3A"/>
<circle cx="304.1" cy="576" r="2.0" fill="#2C2F8E"/>
<circle cx="308.1" cy="576" r="2.0" fill="#2C2F8E"/>
<circle cx="312.1" cy="576" r="2.0" fill="#2C2F8E"/>
<line x1="285" y1="614.4" x2="285" y2="634" stroke="#E0BEC0" stroke-width="1"/>
<line x1="282" y1="614.4" x2="288" y2="614.4" stroke="#E0BEC0" stroke-width="1"/>
<line x1="282" y1="634" x2="288" y2="634" stroke="#E0BEC0" stroke-width="1"/>
<polygon points="285,612.6 287.28,616.68 282.72,616.68" fill="#D9B2B5"/>
<polygon points="281,622.1 283.28,626.18 278.72,626.18" fill="#D9B2B5"/>
<polygon points="289,622.6 291.28,626.68 286.72,626.68" fill="#D9B2B5"/>
<line x1="331" y1="620.8" x2="331" y2="632" stroke="#7EAEDB" stroke-width="1"/>
<line x1="328" y1="620.8" x2="334" y2="620.8" stroke="#7EAEDB" stroke-width="1"/>
<line x1="328" y1="632" x2="334" y2="632" stroke="#7EAEDB" stroke-width="1"/>
<circle cx="327" cy="621.5" r="1.9" fill="#7EAEDB"/>
<circle cx="334.5" cy="621.5" r="1.9" fill="#7EAEDB"/>
<circle cx="331" cy="631" r="1.9" fill="#7EAEDB"/>
<line x1="247.3" y1="641.3" x2="339.4" y2="641.3" stroke="#000" stroke-width="1.5"/>
<line x1="262.3" y1="641.3" x2="262.3" y2="644.8" stroke="#000" stroke-width="1.5"/>
<line x1="285" y1="641.3" x2="285" y2="644.8" stroke="#000" stroke-width="1.5"/>
<line x1="308.1" y1="641.3" x2="308.1" y2="644.8" stroke="#000" stroke-width="1.5"/>
<line x1="331" y1="641.3" x2="331" y2="644.8" stroke="#000" stroke-width="1.5"/>
<line x1="261.9" y1="568.5" x2="283.1" y2="568.5" stroke="#000" stroke-width="1.8"/>
<text x="272.9" y="568.2" font-size="7.2" text-anchor="middle" font-weight="bold" fill="#000" letter-spacing="1.0" stroke="#000" stroke-width="0.45">**</text>
<line x1="307.4" y1="568.5" x2="328.3" y2="568.5" stroke="#000" stroke-width="1.8"/>
<text x="318.25" y="568.2" font-size="7.2" text-anchor="middle" font-weight="bold" fill="#000" letter-spacing="1.0" stroke="#000" stroke-width="0.45">**</text>
<text x="265.1" y="650.9" font-size="7.4" text-anchor="end" font-weight="bold" fill="#000" transform="rotate(-45 265.1 650.9)" stroke="#000" stroke-width="0.2">WT</text>
<text x="287.8" y="650.9" font-size="7.4" text-anchor="end" font-weight="bold" fill="#000" transform="rotate(-45 287.8 650.9)" stroke="#000" stroke-width="0.2">OE</text>
<text x="310.9" y="650.9" font-size="7.4" text-anchor="end" font-weight="bold" fill="#000" transform="rotate(-45 310.9 650.9)" stroke="#000" stroke-width="0.2">WT</text>
<text x="333.8" y="650.9" font-size="7.4" text-anchor="end" font-weight="bold" fill="#000" transform="rotate(-45 333.8 650.9)" stroke="#000" stroke-width="0.2">OE</text>
<line x1="255.2" y1="659" x2="280.3" y2="659" stroke="#000" stroke-width="1.9"/>
<text x="267.9" y="669.46" font-size="7.4" text-anchor="middle" stroke="#000" stroke-width="0.3" fill="#000">SYO-1</text>
<line x1="301" y1="659" x2="324.1" y2="659" stroke="#000" stroke-width="1.9"/>
<text x="311.5" y="669.46" font-size="7.4" text-anchor="middle" stroke="#000" stroke-width="0.3" fill="#000">Fuji</text>
<text x="370.6" y="497.5" font-size="14.2" text-anchor="start" font-weight="bold" fill="#000" stroke="#000" stroke-width="0.2">I</text>
<text x="454.3" y="530.6" font-size="9.3" text-anchor="middle" font-weight="bold" fill="#000">Fe<tspan font-size="6.5" dy="-4">2+</tspan></text>
<line x1="404.6" y1="540" x2="404.6" y2="640.35" stroke="#000" stroke-width="1.5"/>
<line x1="400.8" y1="540.75" x2="404.6" y2="540.75" stroke="#000" stroke-width="1.5"/>
<text x="399.8" y="543.56" font-size="7.8" text-anchor="end" font-weight="bold" fill="#000">1.5</text>
<line x1="400.8" y1="573.7" x2="404.6" y2="573.7" stroke="#000" stroke-width="1.5"/>
<text x="399.8" y="576.51" font-size="7.8" text-anchor="end" font-weight="bold" fill="#000">1.0</text>
<line x1="400.8" y1="606.65" x2="404.6" y2="606.65" stroke="#000" stroke-width="1.5"/>
<text x="399.8" y="609.46" font-size="7.8" text-anchor="end" font-weight="bold" fill="#000">0.5</text>
<line x1="400.8" y1="639.6" x2="404.6" y2="639.6" stroke="#000" stroke-width="1.5"/>
<text x="399.8" y="642.41" font-size="7.8" text-anchor="end" font-weight="bold" fill="#000">0.0</text>
<text x="374.2" y="587" font-size="8.4" text-anchor="middle" font-weight="bold" fill="#000" transform="rotate(-90 374.2 587)">Fe<tspan font-size="6.2" dy="-3.8">2+</tspan></text>
<text x="384.6" y="589.6" font-size="7.5" text-anchor="middle" font-weight="bold" fill="#000" transform="rotate(-90 384.6 589.6)">(RFU of FeRhoNOX-1)</text>
<rect x="413.48" y="573.67" width="13.65" height="65.93" fill="#fff" stroke="#961E3A" stroke-width="1.35"/>
<rect x="436.28" y="624.67" width="13.35" height="14.93" fill="#fff" stroke="#E8C3C6" stroke-width="1.35"/>
<rect x="459.28" y="573.67" width="13.15" height="65.93" fill="#fff" stroke="#2C2F8E" stroke-width="1.35"/>
<rect x="481.78" y="622.67" width="13.65" height="16.93" fill="#fff" stroke="#A2C4E5" stroke-width="1.35"/>
<circle cx="416" cy="573.2" r="2.0" fill="#961E3A"/>
<circle cx="420.3" cy="573.2" r="2.0" fill="#961E3A"/>
<circle cx="424.6" cy="573.2" r="2.0" fill="#961E3A"/>
<circle cx="461.8" cy="573.2" r="2.0" fill="#2C2F8E"/>
<circle cx="465.8" cy="573.2" r="2.0" fill="#2C2F8E"/>
<circle cx="469.8" cy="573.2" r="2.0" fill="#2C2F8E"/>
<circle cx="439" cy="623.5" r="1.8" fill="#D9B2B5"/>
<circle cx="443" cy="622.5" r="1.8" fill="#D9B2B5"/>
<circle cx="447" cy="623.5" r="1.8" fill="#D9B2B5"/>
<line x1="488.6" y1="616.2" x2="488.6" y2="630" stroke="#7EAEDB" stroke-width="1"/>
<line x1="485.6" y1="616.2" x2="491.6" y2="616.2" stroke="#7EAEDB" stroke-width="1"/>
<line x1="485.6" y1="630" x2="491.6" y2="630" stroke="#7EAEDB" stroke-width="1"/>
<circle cx="488.6" cy="616.8" r="1.9" fill="#8AB4DC"/>
<circle cx="488.6" cy="622.3" r="1.8" fill="#8AB4DC"/>
<circle cx="488.6" cy="626.8" r="1.9" fill="#8AAFD3"/>
<line x1="404.6" y1="639.6" x2="503.8" y2="639.6" stroke="#000" stroke-width="1.5"/>
<line x1="420.3" y1="639.6" x2="420.3" y2="643.1" stroke="#000" stroke-width="1.5"/>
<line x1="443" y1="639.6" x2="443" y2="643.1" stroke="#000" stroke-width="1.5"/>
<line x1="465.8" y1="639.6" x2="465.8" y2="643.1" stroke="#000" stroke-width="1.5"/>
<line x1="488.6" y1="639.6" x2="488.6" y2="643.1" stroke="#000" stroke-width="1.5"/>
<line x1="419.1" y1="566.3" x2="440.8" y2="566.3" stroke="#000" stroke-width="1.8"/>
<text x="430.35" y="566" font-size="7.2" text-anchor="middle" font-weight="bold" fill="#000" letter-spacing="1.0" stroke="#000" stroke-width="0.45">***</text>
<line x1="465.3" y1="566.3" x2="486.3" y2="566.3" stroke="#000" stroke-width="1.8"/>
<text x="476.2" y="566" font-size="7.2" text-anchor="middle" font-weight="bold" fill="#000" letter-spacing="1.0" stroke="#000" stroke-width="0.45">**</text>
<text x="423.1" y="649.2" font-size="7.4" text-anchor="end" font-weight="bold" fill="#000" transform="rotate(-45 423.1 649.2)" stroke="#000" stroke-width="0.2">WT</text>
<text x="445.8" y="649.2" font-size="7.4" text-anchor="end" font-weight="bold" fill="#000" transform="rotate(-45 445.8 649.2)" stroke="#000" stroke-width="0.2">OE</text>
<text x="468.6" y="649.2" font-size="7.4" text-anchor="end" font-weight="bold" fill="#000" transform="rotate(-45 468.6 649.2)" stroke="#000" stroke-width="0.2">WT</text>
<text x="491.4" y="649.2" font-size="7.4" text-anchor="end" font-weight="bold" fill="#000" transform="rotate(-45 491.4 649.2)" stroke="#000" stroke-width="0.2">OE</text>
<line x1="413.4" y1="658.1" x2="437.9" y2="658.1" stroke="#000" stroke-width="1.9"/>
<text x="425.3" y="667.96" font-size="7.4" text-anchor="middle" stroke="#000" stroke-width="0.3" fill="#000">SYO-1</text>
<line x1="459.5" y1="658.1" x2="483.5" y2="658.1" stroke="#000" stroke-width="1.9"/>
<text x="471" y="667.96" font-size="7.4" text-anchor="middle" stroke="#000" stroke-width="0.3" fill="#000">Fuji</text>
</svg>
</body></html>
